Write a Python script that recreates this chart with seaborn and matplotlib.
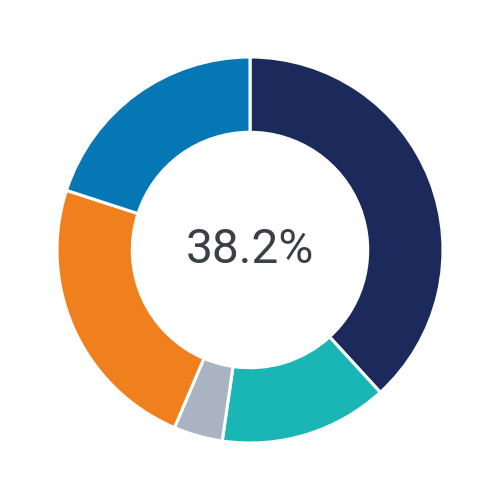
import matplotlib
matplotlib.use("Agg")
import matplotlib.pyplot as plt
import seaborn as sns

# slice shares, clockwise from 12 o'clock
segments = ["Navy", "Teal", "Grey", "Orange", "Blue"]
shares = [38.2, 14.1, 4.1, 23.6, 20.0]
colors = ["#1b2a5a", "#1ab5b5", "#a9b3c1", "#f07f1e", "#0677b5"]
center_label = "38.2%"

sns.set_theme(style="white")
plt.rcParams['font.family'] = ['Roboto', 'DejaVu Sans']

fig = plt.figure(figsize=(5, 5), dpi=100)
ax = fig.add_axes([0, 0, 1, 1])

ax.pie(shares, colors=colors, startangle=90, counterclock=False,
       radius=1.0,
       wedgeprops=dict(width=0.39, edgecolor="white", linewidth=2.2))

ax.text(0, 0, center_label, ha="center", va="center", fontsize=34.5,
        color="#3b3f46")

lim = 250 / 193
ax.set_xlim(-lim, lim)
ax.set_ylim(-lim, lim)
ax.set_aspect("equal")
ax.axis("off")

fig.savefig("out.png", dpi=100, facecolor="white")
